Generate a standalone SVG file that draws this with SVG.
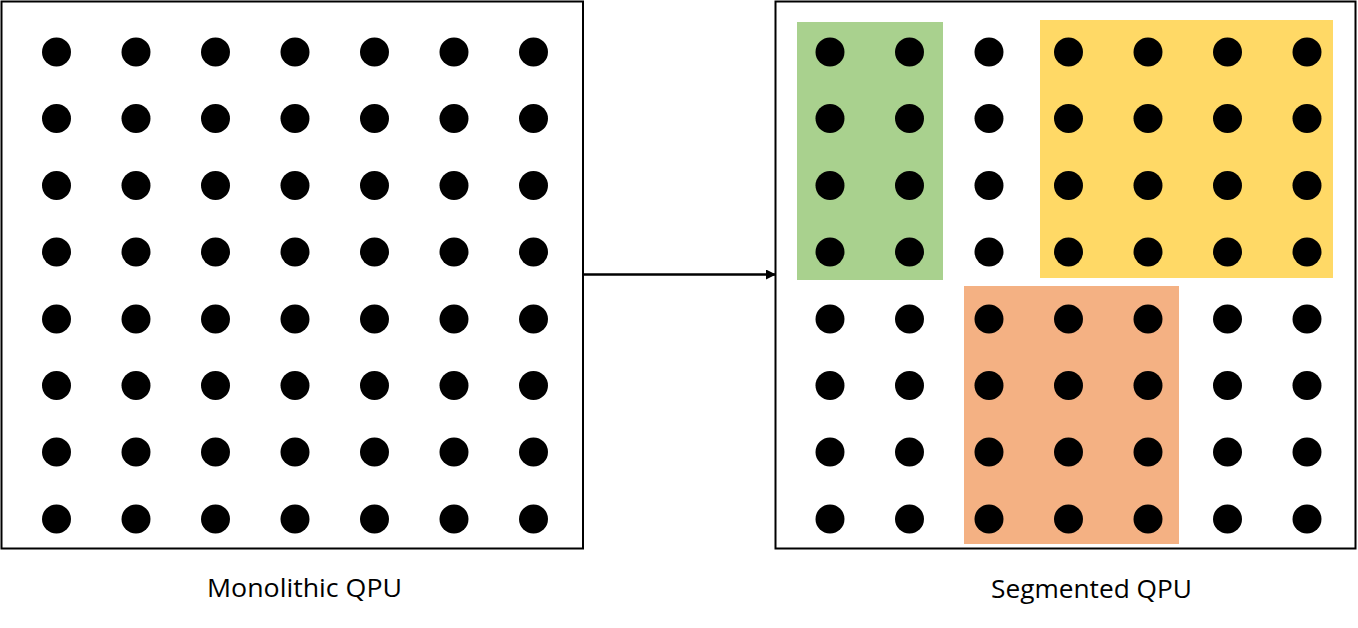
<svg xmlns="http://www.w3.org/2000/svg" width="1358" height="628" viewBox="0 0 1358 628">
<defs>
<style>
.box{fill:#fff;stroke:#000;stroke-width:2}
.d{fill:#000}
.lbl{font-family:"Open Sans","Liberation Sans",sans-serif;font-size:25.5px;fill:#000;text-anchor:middle}
</style>
<marker id="ah" markerWidth="10" markerHeight="10" refX="9" refY="5" orient="auto" markerUnits="userSpaceOnUse">
<path d="M0,0 L10,5 L0,10 z" fill="#000"/>
</marker>
</defs>
<rect width="1358" height="628" fill="#fff"/>
<g id="monolithic">
<rect class="box" x="1.5" y="1.5" width="581.5" height="547"/>
<g id="mono-dots">
<circle class="d" cx="56.5" cy="52" r="14.5"/><circle class="d" cx="136" cy="52" r="14.5"/><circle class="d" cx="215.5" cy="52" r="14.5"/><circle class="d" cx="295" cy="52" r="14.5"/><circle class="d" cx="374.5" cy="52" r="14.5"/><circle class="d" cx="454" cy="52" r="14.5"/><circle class="d" cx="533.5" cy="52" r="14.5"/>
<circle class="d" cx="56.5" cy="118.5" r="14.5"/><circle class="d" cx="136" cy="118.5" r="14.5"/><circle class="d" cx="215.5" cy="118.5" r="14.5"/><circle class="d" cx="295" cy="118.5" r="14.5"/><circle class="d" cx="374.5" cy="118.5" r="14.5"/><circle class="d" cx="454" cy="118.5" r="14.5"/><circle class="d" cx="533.5" cy="118.5" r="14.5"/>
<circle class="d" cx="56.5" cy="185.5" r="14.5"/><circle class="d" cx="136" cy="185.5" r="14.5"/><circle class="d" cx="215.5" cy="185.5" r="14.5"/><circle class="d" cx="295" cy="185.5" r="14.5"/><circle class="d" cx="374.5" cy="185.5" r="14.5"/><circle class="d" cx="454" cy="185.5" r="14.5"/><circle class="d" cx="533.5" cy="185.5" r="14.5"/>
<circle class="d" cx="56.5" cy="252" r="14.5"/><circle class="d" cx="136" cy="252" r="14.5"/><circle class="d" cx="215.5" cy="252" r="14.5"/><circle class="d" cx="295" cy="252" r="14.5"/><circle class="d" cx="374.5" cy="252" r="14.5"/><circle class="d" cx="454" cy="252" r="14.5"/><circle class="d" cx="533.5" cy="252" r="14.5"/>
<circle class="d" cx="56.5" cy="319" r="14.5"/><circle class="d" cx="136" cy="319" r="14.5"/><circle class="d" cx="215.5" cy="319" r="14.5"/><circle class="d" cx="295" cy="319" r="14.5"/><circle class="d" cx="374.5" cy="319" r="14.5"/><circle class="d" cx="454" cy="319" r="14.5"/><circle class="d" cx="533.5" cy="319" r="14.5"/>
<circle class="d" cx="56.5" cy="385.5" r="14.5"/><circle class="d" cx="136" cy="385.5" r="14.5"/><circle class="d" cx="215.5" cy="385.5" r="14.5"/><circle class="d" cx="295" cy="385.5" r="14.5"/><circle class="d" cx="374.5" cy="385.5" r="14.5"/><circle class="d" cx="454" cy="385.5" r="14.5"/><circle class="d" cx="533.5" cy="385.5" r="14.5"/>
<circle class="d" cx="56.5" cy="452" r="14.5"/><circle class="d" cx="136" cy="452" r="14.5"/><circle class="d" cx="215.5" cy="452" r="14.5"/><circle class="d" cx="295" cy="452" r="14.5"/><circle class="d" cx="374.5" cy="452" r="14.5"/><circle class="d" cx="454" cy="452" r="14.5"/><circle class="d" cx="533.5" cy="452" r="14.5"/>
<circle class="d" cx="56.5" cy="519" r="14.5"/><circle class="d" cx="136" cy="519" r="14.5"/><circle class="d" cx="215.5" cy="519" r="14.5"/><circle class="d" cx="295" cy="519" r="14.5"/><circle class="d" cx="374.5" cy="519" r="14.5"/><circle class="d" cx="454" cy="519" r="14.5"/><circle class="d" cx="533.5" cy="519" r="14.5"/>
</g>
<text class="lbl" x="304.5" y="597" textLength="195" lengthAdjust="spacingAndGlyphs">Monolithic QPU</text>
</g>
<g id="segmented">
<rect class="box" x="775.5" y="1.5" width="580" height="547"/>
<rect id="seg-green" x="797" y="22" width="146" height="258" fill="#a9d18e"/>
<rect id="seg-yellow" x="1040" y="20" width="293" height="258" fill="#ffd966"/>
<rect id="seg-orange" x="964" y="286" width="215" height="258" fill="#f4b183"/>
<g id="seg-dots">
<circle class="d" cx="830" cy="52" r="14.5"/><circle class="d" cx="909.5" cy="52" r="14.5"/><circle class="d" cx="989" cy="52" r="14.5"/><circle class="d" cx="1068.5" cy="52" r="14.5"/><circle class="d" cx="1148" cy="52" r="14.5"/><circle class="d" cx="1227.5" cy="52" r="14.5"/><circle class="d" cx="1307" cy="52" r="14.5"/>
<circle class="d" cx="830" cy="118.5" r="14.5"/><circle class="d" cx="909.5" cy="118.5" r="14.5"/><circle class="d" cx="989" cy="118.5" r="14.5"/><circle class="d" cx="1068.5" cy="118.5" r="14.5"/><circle class="d" cx="1148" cy="118.5" r="14.5"/><circle class="d" cx="1227.5" cy="118.5" r="14.5"/><circle class="d" cx="1307" cy="118.5" r="14.5"/>
<circle class="d" cx="830" cy="185.5" r="14.5"/><circle class="d" cx="909.5" cy="185.5" r="14.5"/><circle class="d" cx="989" cy="185.5" r="14.5"/><circle class="d" cx="1068.5" cy="185.5" r="14.5"/><circle class="d" cx="1148" cy="185.5" r="14.5"/><circle class="d" cx="1227.5" cy="185.5" r="14.5"/><circle class="d" cx="1307" cy="185.5" r="14.5"/>
<circle class="d" cx="830" cy="252" r="14.5"/><circle class="d" cx="909.5" cy="252" r="14.5"/><circle class="d" cx="989" cy="252" r="14.5"/><circle class="d" cx="1068.5" cy="252" r="14.5"/><circle class="d" cx="1148" cy="252" r="14.5"/><circle class="d" cx="1227.5" cy="252" r="14.5"/><circle class="d" cx="1307" cy="252" r="14.5"/>
<circle class="d" cx="830" cy="319" r="14.5"/><circle class="d" cx="909.5" cy="319" r="14.5"/><circle class="d" cx="989" cy="319" r="14.5"/><circle class="d" cx="1068.5" cy="319" r="14.5"/><circle class="d" cx="1148" cy="319" r="14.5"/><circle class="d" cx="1227.5" cy="319" r="14.5"/><circle class="d" cx="1307" cy="319" r="14.5"/>
<circle class="d" cx="830" cy="385.5" r="14.5"/><circle class="d" cx="909.5" cy="385.5" r="14.5"/><circle class="d" cx="989" cy="385.5" r="14.5"/><circle class="d" cx="1068.5" cy="385.5" r="14.5"/><circle class="d" cx="1148" cy="385.5" r="14.5"/><circle class="d" cx="1227.5" cy="385.5" r="14.5"/><circle class="d" cx="1307" cy="385.5" r="14.5"/>
<circle class="d" cx="830" cy="452" r="14.5"/><circle class="d" cx="909.5" cy="452" r="14.5"/><circle class="d" cx="989" cy="452" r="14.5"/><circle class="d" cx="1068.5" cy="452" r="14.5"/><circle class="d" cx="1148" cy="452" r="14.5"/><circle class="d" cx="1227.5" cy="452" r="14.5"/><circle class="d" cx="1307" cy="452" r="14.5"/>
<circle class="d" cx="830" cy="519" r="14.5"/><circle class="d" cx="909.5" cy="519" r="14.5"/><circle class="d" cx="989" cy="519" r="14.5"/><circle class="d" cx="1068.5" cy="519" r="14.5"/><circle class="d" cx="1148" cy="519" r="14.5"/><circle class="d" cx="1227.5" cy="519" r="14.5"/><circle class="d" cx="1307" cy="519" r="14.5"/>
</g>
<text class="lbl" x="1091.5" y="598" textLength="201" lengthAdjust="spacingAndGlyphs">Segmented QPU</text>
</g>
<g id="connectors">
<line x1="583" y1="274.5" x2="775" y2="274.5" stroke="#000" stroke-width="2.5" marker-end="url(#ah)"/>
</g>
</svg>
